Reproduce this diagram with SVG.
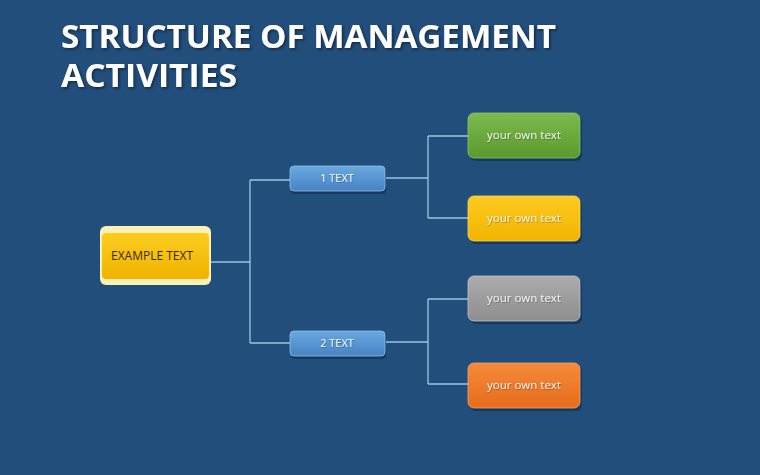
<svg xmlns="http://www.w3.org/2000/svg" width="760" height="475" viewBox="0 0 760 475">
<defs>
<linearGradient id="gYellow" x1="0" y1="0" x2="0" y2="1"><stop offset="0" stop-color="#fbcd1e"/><stop offset="1" stop-color="#f0b300"/></linearGradient>
<linearGradient id="gBlue" x1="0" y1="0" x2="0" y2="1"><stop offset="0" stop-color="#6aa8e0"/><stop offset="1" stop-color="#4783c4"/></linearGradient>
<linearGradient id="gGreen" x1="0" y1="0" x2="0" y2="1"><stop offset="0" stop-color="#7cba4c"/><stop offset="1" stop-color="#5b9a2f"/></linearGradient>
<linearGradient id="gGold" x1="0" y1="0" x2="0" y2="1"><stop offset="0" stop-color="#fcca22"/><stop offset="1" stop-color="#f2b500"/></linearGradient>
<linearGradient id="gGray" x1="0" y1="0" x2="0" y2="1"><stop offset="0" stop-color="#acacac"/><stop offset="1" stop-color="#8e8e8e"/></linearGradient>
<linearGradient id="gOrange" x1="0" y1="0" x2="0" y2="1"><stop offset="0" stop-color="#f68a3a"/><stop offset="1" stop-color="#e56c1b"/></linearGradient>
<filter id="tsh" x="-10%" y="-10%" width="120%" height="130%"><feDropShadow dx="1.5" dy="1.5" stdDeviation="0.8" flood-color="#0c2440" flood-opacity="0.8"/></filter>
<filter id="lsh" x="-10%" y="-20%" width="120%" height="150%"><feDropShadow dx="0.6" dy="0.8" stdDeviation="0.4" flood-color="#000000" flood-opacity="0.35"/></filter>
</defs>
<style>
.title{font-family:"Open Sans","Liberation Sans",sans-serif;font-weight:bold;font-size:32px;fill:#ffffff}
.conn{fill:none;stroke:#9cc4e8;stroke-width:1.3}
.shadow{fill:#163a5e}
.lbl{font-family:"Open Sans","Liberation Sans",sans-serif;font-size:11.5px;fill:#f2f2f2;text-anchor:middle}
.sm{font-family:"Open Sans","Liberation Sans",sans-serif;font-size:11px;fill:#f4f8fc;text-anchor:middle}
.ex{font-family:"Open Sans","Liberation Sans",sans-serif;font-size:12px;fill:#3a2a05}
</style>
<rect width="760" height="475" fill="#214e7a"/>
<g id="title" filter="url(#tsh)">
<text class="title" x="61" y="48" textLength="495" lengthAdjust="spacingAndGlyphs">STRUCTURE OF MANAGEMENT</text>
<text class="title" x="61" y="87" textLength="176" lengthAdjust="spacingAndGlyphs">ACTIVITIES</text>
</g>
<g id="connectors">
<path class="conn" d="M211,262 H250 M250,180 V343 M250,180 H290 M250,343 H290"/>
<path class="conn" d="M385,178 H428 M428,136 V218 M428,136 H469 M428,218 H469"/>
<path class="conn" d="M385,342 H428 M428,299 V384 M428,299 H469 M428,384 H469"/>
</g>
<g id="node-example">
<rect x="100" y="226" width="111" height="59" rx="6" fill="#fdf0b4"/>
<rect x="102" y="233" width="107" height="46" rx="4" fill="url(#gYellow)"/>
<text class="ex" x="111" y="260">EXAMPLE TEXT</text>
</g>
<g id="node-1text">
<rect class="shadow" x="291" y="168" width="95" height="26" rx="4"/>
<rect x="290" y="166" width="95" height="25" rx="4" fill="url(#gBlue)" stroke="#8fc0ec" stroke-width="0.8"/>
<text class="sm" x="337" y="182" filter="url(#lsh)">1 TEXT</text>
</g>
<g id="node-2text">
<rect class="shadow" x="291" y="333" width="95" height="26" rx="4"/>
<rect x="290" y="331" width="95" height="25" rx="4" fill="url(#gBlue)" stroke="#8fc0ec" stroke-width="0.8"/>
<text class="sm" x="337" y="347" filter="url(#lsh)">2 TEXT</text>
</g>
<g id="node-green">
<rect class="shadow" x="470" y="115" width="112" height="46" rx="6"/>
<rect x="468" y="113" width="112" height="45" rx="6" fill="url(#gGreen)" stroke="#8cc765" stroke-width="0.8"/>
<text class="lbl" x="524" y="139" filter="url(#lsh)">your own text</text>
</g>
<g id="node-yellow">
<rect class="shadow" x="470" y="198" width="112" height="46" rx="6"/>
<rect x="468" y="196" width="112" height="45" rx="6" fill="url(#gGold)" stroke="#fdd85a" stroke-width="0.8"/>
<text class="lbl" x="524" y="222" filter="url(#lsh)">your own text</text>
</g>
<g id="node-gray">
<rect class="shadow" x="470" y="278" width="112" height="46" rx="6"/>
<rect x="468" y="276" width="112" height="45" rx="6" fill="url(#gGray)" stroke="#c4c4c4" stroke-width="0.8"/>
<text class="lbl" x="524" y="302" filter="url(#lsh)">your own text</text>
</g>
<g id="node-orange">
<rect class="shadow" x="470" y="365" width="112" height="46" rx="6"/>
<rect x="468" y="363" width="112" height="45" rx="6" fill="url(#gOrange)" stroke="#f9a56a" stroke-width="0.8"/>
<text class="lbl" x="524" y="389" filter="url(#lsh)">your own text</text>
</g>
</svg>
